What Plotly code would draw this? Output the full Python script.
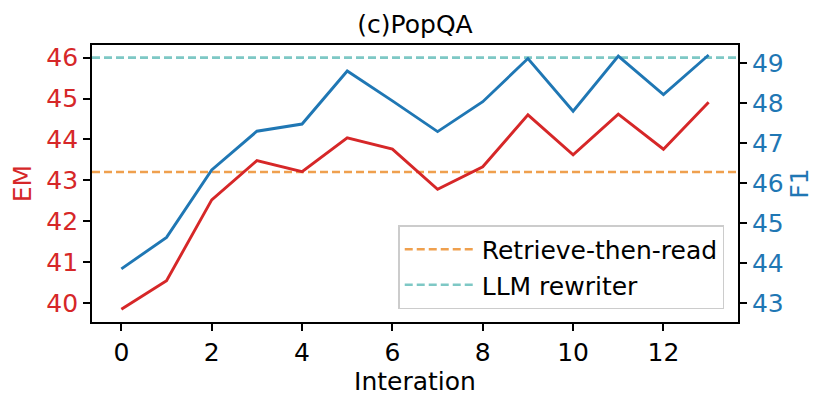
import plotly.graph_objects as go

iters = list(range(14))
em = [39.84, 40.54, 42.52, 43.48, 43.21, 44.04, 43.76, 42.78, 43.33, 44.60, 43.62, 44.62, 43.76, 44.91]
f1 = [43.85, 44.64, 46.33, 47.30, 47.48, 48.81, 48.06, 47.29, 48.04, 49.12, 47.80, 49.18, 48.22, 49.21]
baseline_names = ["Retrieve-then-read", "LLM rewriter"]
baseline_em = [43.2, 46.0]
baseline_colors = ["#efa04e", "#7ec8c5"]

RED = "#d62728"
BLUE = "#1f77b4"
FONT = "DejaVu Sans"
FS = 25

fig = go.Figure()
fig.add_trace(go.Scatter(x=iters, y=em, mode="lines", line=dict(color=RED, width=2.9),
                         showlegend=False, yaxis="y"))
fig.add_trace(go.Scatter(x=iters, y=f1, mode="lines", line=dict(color=BLUE, width=2.9),
                         showlegend=False, yaxis="y2"))

# horizontal baselines on the EM axis
for name, val, col in zip(baseline_names, baseline_em, baseline_colors):
    fig.add_shape(type="line", xref="x domain", x0=0, x1=1, yref="y", y0=val, y1=val,
                  line=dict(color=col, width=2.6, dash="8px,4px"),
                  showlegend=True, name=name, layer="below")

axis_common = dict(showline=True, linecolor="black", linewidth=1.8, automargin=False,
                   ticks="outside", ticklen=7, tickwidth=1.8, tickcolor="black",
                   showgrid=False, zeroline=False)

fig.update_layout(
    width=831, height=407,
    margin=dict(l=92, r=93, t=45, b=85),
    paper_bgcolor="white", plot_bgcolor="white",
    font=dict(family=FONT, size=FS, color="black"),
    title=dict(text="(c)PopQA", x=0.5, xanchor="center", xref="paper",
               y=1 - 24 / 407, yanchor="middle", font=dict(size=FS)),
    xaxis=dict(range=[-0.65, 13.65], tickvals=list(range(0, 14, 2)),
               tickfont=dict(size=FS, color="black"),
               title=dict(text="Interation", standoff=4, font=dict(size=FS)),
               mirror=True, **axis_common),
    yaxis=dict(range=[39.53, 46.31], dtick=1, tickfont=dict(size=FS, color=RED),
               title=dict(text="EM", font=dict(size=FS, color=RED), standoff=8),
               **axis_common),
    yaxis2=dict(range=[42.52, 49.46], dtick=1, overlaying="y", side="right",
                tickfont=dict(size=FS, color=BLUE),
                title=dict(text="F1", font=dict(size=FS, color=BLUE), standoff=8),
                **axis_common),
    legend=dict(x=0.979, xanchor="right", y=0.046, yanchor="bottom",
                bgcolor="rgba(255,255,255,0.85)", bordercolor="#cccccc", borderwidth=1.3,
                font=dict(size=FS), itemwidth=72),
)

# page body has a default 8px margin; drop it so the figure sits at the origin
fig.write_html("out.html", config={"displayModeBar": False},
               post_script="document.body.style.margin='0';")
